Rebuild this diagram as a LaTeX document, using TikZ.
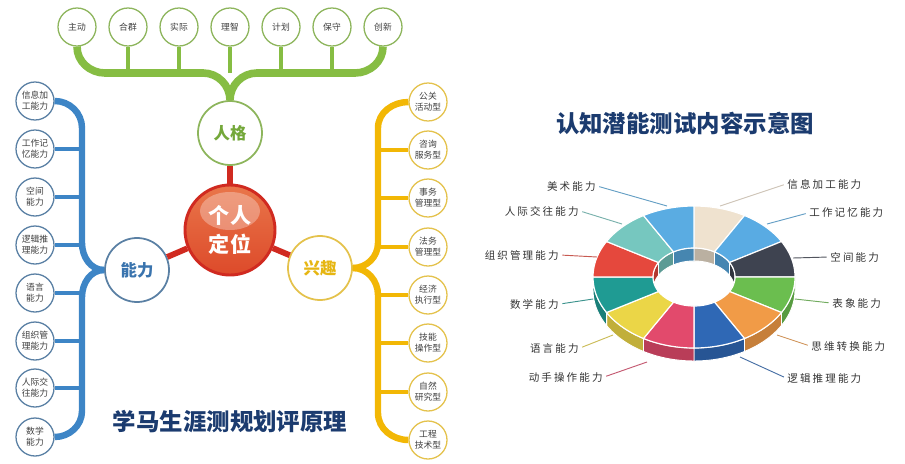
\documentclass[tikz,border=0pt]{standalone}
\usepackage{fontspec}
\newfontfamily\cjk{Noto Sans CJK SC}
\newfontfamily\cjksp[LetterSpace=20]{Noto Sans CJK SC}

\definecolor{grn}{HTML}{86BD43}
\definecolor{grnbd}{HTML}{8DB55C}
\definecolor{grntx}{HTML}{74A83A}
\definecolor{blu}{HTML}{3D85C6}
\definecolor{blubd}{HTML}{5A80A4}
\definecolor{blutx}{HTML}{3A74AE}
\definecolor{ylw}{HTML}{F2B705}
\definecolor{ylwbd}{HTML}{E4C24C}
\definecolor{ylwtx}{HTML}{E6B612}
\definecolor{rd}{HTML}{D02A20}
\definecolor{orlt}{HTML}{E9764A}
\definecolor{ordk}{HTML}{DD4A2A}
\definecolor{navy}{HTML}{1B3B6F}
\definecolor{d1}{HTML}{EFE2CF}
\definecolor{d2}{HTML}{59ABE3}
\definecolor{d3}{HTML}{3E4350}
\definecolor{d4}{HTML}{6BBE4F}
\definecolor{d5}{HTML}{F19B47}
\definecolor{d6}{HTML}{2F68B5}
\definecolor{d7}{HTML}{E24A6C}
\definecolor{d8}{HTML}{EBD647}
\definecolor{d9}{HTML}{1F9B93}
\definecolor{d10}{HTML}{E5483D}
\definecolor{d11}{HTML}{76C7BF}
\definecolor{d12}{HTML}{5AACE2}

\tikzset{
    leaf/.style={circle, draw, line width=1.1pt, fill=white, minimum size=1.14cm, inner sep=0pt,
        align=center, text=black!75, font=\cjk\fontsize{7.5}{9.5}\selectfont},
    hub/.style={circle, draw, line width=1.5pt, fill=white, minimum size=1.92cm, inner sep=0pt,
        font=\cjk\bfseries\fontsize{14}{16}\selectfont},
    lab/.style={inner sep=1pt, text=black!80, font=\cjksp\fontsize{9}{10}\selectfont},
    ttl/.style={text=navy, font=\cjk\bfseries\fontsize{20}{24}\selectfont}
}

\begin{document}
\begin{tikzpicture}[x=0.03cm, y=0.03cm]
    \useasboundingbox (0,0) rectangle (905,463);

    % mind map
    \node[circle, minimum size=2.7cm, draw=rd, line width=2.5pt, top color=orlt, bottom color=ordk] (me) at (230,233) {};
    \fill[white, opacity=.3] (230,252) ellipse (30 and 19);
    \node[align=center, text=white, font=\cjk\bfseries\fontsize{18}{24}\selectfont] (metx) at (me) {个人\\定位};
    \node[hub, draw=grnbd, text=grntx] (rg) at (230,330) {人格};
    \node[hub, draw=blubd, text=blutx] (nl) at (137,193) {能力};
    \node[hub, draw=ylwbd, text=ylwtx] (xq) at (320,195) {兴趣};
    \draw[rd, line width=5pt] (rg) -- (me);
    \draw[rd, line width=5pt] (me) -- (nl);
    \draw[rd, line width=5pt] (me) -- (xq);

    \foreach \n/\x/\t in {1/77/主动, 2/128/合群, 3/179/实际, 4/230/理智, 5/281/计划, 6/332/保守, 7/383/创新}
        \node[leaf, draw=grnbd] (t\n) at (\x,436) {\t};
    \coordinate (gl) at (105,390);
    \coordinate (gml) at (203,390);
    \coordinate (gmr) at (257,390);
    \coordinate (gr) at (355,390);
    \draw[grn, line width=6.5pt] (t1.south) to[out=-90, in=180] (gl) -- (gml) to[out=0, in=90] (rg.north);
    \draw[grn, line width=6.5pt] (t7.south) to[out=-90, in=0] (gr) -- (gmr) to[out=180, in=90] (rg.north);
    \foreach \n in {2,...,6}
        \draw[grn, line width=3.5pt] (t\n.south) -- (t\n.south |- gl);

    \foreach \n/\y/\t in {1/362/{信息加\\工能力}, 2/314/{工作记\\忆能力}, 3/266/{空间\\能力}, 4/218/{逻辑推\\理能力},
        5/170/{语言\\能力}, 6/122/{组织管\\理能力}, 7/75/{人际交\\往能力}, 8/26/{数学\\能力}}
        \node[leaf, draw=blubd] (a\n) at (35,\y) {\t};
    \coordinate (b1) at (82,335);
    \coordinate (b2) at (82,220);
    \coordinate (b3) at (82,166);
    \coordinate (b4) at (82,52);
    \draw[blu, line width=5.5pt] (a1.east) to[out=0, in=90] (b1) -- (b2) to[out=-90, in=180] (nl.west);
    \draw[blu, line width=5.5pt] (nl.west) to[out=180, in=90] (b3) -- (b4) to[out=-90, in=0] (a8.east);
    \foreach \n in {2,...,7}
        \draw[blu, line width=3pt] (a\n.east) -- (a\n.east -| b1);

    \foreach \n/\y/\t in {1/361/{公关\\活动型}, 2/313/{咨询\\服务型}, 3/265/{事务\\管理型}, 4/216/{法务\\管理型},
        5/168/{经济\\执行型}, 6/120/{技能\\操作型}, 7/71/{自然\\研究型}, 8/23/{工程\\技术型}}
        \node[leaf, draw=ylwbd] (x\n) at (428,\y) {\t};
    \coordinate (c1) at (378,335);
    \coordinate (c2) at (378,220);
    \coordinate (c3) at (378,168);
    \coordinate (c4) at (378,50);
    \draw[ylw, line width=5.5pt] (x1.west) to[out=180, in=90] (c1) -- (c2) to[out=-90, in=0] (xq.east);
    \draw[ylw, line width=5.5pt] (xq.east) to[out=0, in=90] (c3) -- (c4) to[out=-90, in=180] (x8.west);
    \foreach \n in {2,...,7}
        \draw[ylw, line width=3pt] (x\n.west) -- (x\n.west -| c1);

    \node[ttl] (ttla) at (230,41) {学马生涯测规划评原理};

    % donut chart
    \node[ttl] (ttlb) at (685,340) {认知潜能测试内容示意图};
    \foreach \a/\c [evaluate=\a as \b using int(\a+30)] in {0/d3, 30/d2, 60/d1, 90/d12, 120/d11, 150/d10}
        \fill[\c!78!black, draw=white, line width=.8pt] plot[domain=\a:\b, samples=12] ({694+41*cos(\x)},{186+29*sin(\x)})
            -- plot[domain=\b:\a, samples=12] ({694+41*cos(\x)},{173+29*sin(\x)}) -- cycle;
    \foreach \a/\c [evaluate=\a as \b using int(\a+30)] in {-30/d4, -60/d5, -90/d6, -120/d7, -150/d8, -180/d9}
        \fill[\c!82!black, draw=white, line width=.8pt] plot[domain=\a:\b, samples=12] ({694+101*cos(\x)},{186+71*sin(\x)})
            -- plot[domain=\b:\a, samples=12] ({694+101*cos(\x)},{173+71*sin(\x)}) -- cycle;
    \foreach \a/\c [evaluate=\a as \b using int(\a+30)] in {60/d1, 30/d2, 0/d3, -30/d4, -60/d5, -90/d6,
        -120/d7, -150/d8, -180/d9, 150/d10, 120/d11, 90/d12}
        \fill[\c, draw=white, line width=1pt] plot[domain=\a:\b, samples=16] ({694+101*cos(\x)},{186+71*sin(\x)})
            -- plot[domain=\b:\a, samples=16] ({694+41*cos(\x)},{186+29*sin(\x)}) -- cycle;

    \foreach \n/\t/\lx/\ly/\px/\py/\c in {1/美术能力/597/277/667/257/d12, 2/人际交往能力/580/252/622/239/d11,
        3/组织管理能力/560/208/597/206/d10, 4/数学能力/560/159/593/164/d9,
        5/语言能力/580/115/613/128/d8, 6/动手操作能力/604/86/647/101/d7} {
        \coordinate (p\n) at (\px,\py);
        \node[lab, anchor=east] (l\n) at (\lx,\ly) {\t};
        \draw[\c!70!gray, line width=.8pt, shorten <=2pt] (l\n.east) -- (p\n);
    }
    \foreach \n/\t/\lx/\ly/\px/\py/\c in {7/信息加工能力/786/279/720/257/d1, 8/工作记忆能力/808/250/767/239/d2,
        9/空间能力/829/206/793/205/d3, 10/表象能力/831/160/795/164/d4,
        11/思维转换能力/810/117/777/128/d5, 12/逻辑推理能力/786/85/740/106/d6} {
        \coordinate (p\n) at (\px,\py);
        \node[lab, anchor=west] (l\n) at (\lx,\ly) {\t};
        \draw[\c!70!gray, line width=.8pt, shorten <=2pt] (l\n.west) -- (p\n);
    }
\end{tikzpicture}
\end{document}
